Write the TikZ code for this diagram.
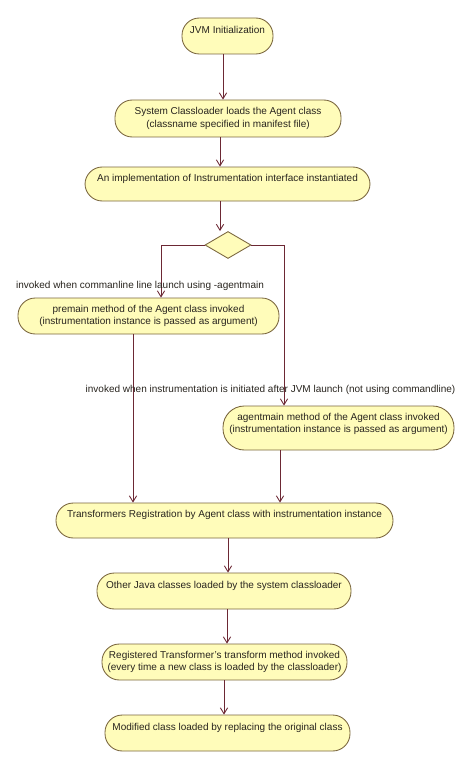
\documentclass[tikz,border=0pt]{standalone}
\usepackage{fontspec}
\setmainfont{Liberation Sans}
\usetikzlibrary{arrows.meta,shapes.geometric,calc}
\definecolor{actfill}{RGB}{255,252,186}
\definecolor{actline}{RGB}{122,102,62}
\definecolor{arrcol}{RGB}{108,40,52}
\definecolor{txtcol}{RGB}{40,36,30}
\tikzset{
  act/.style={draw=actline, fill=actfill, line width=0.65pt, rounded corners=13pt,
    align=center, inner sep=0pt, text=txtcol, font=\fontsize{7.5}{9.6}\selectfont},
  decis/.style={draw=actline, fill=actfill, line width=0.65pt, diamond, inner sep=0pt,
    minimum width=34.5pt, minimum height=20.25pt},
  arr/.style={draw=arrcol, line width=0.65pt, -{Straight Barb[length=4.5pt,width=5.5pt]}},
  lab/.style={inner sep=0pt, text=txtcol, font=\fontsize{7.5}{9.6}\selectfont}
}
\begin{document}
\begin{tikzpicture}[x=0.75pt,y=-0.75pt]
\useasboundingbox (0,0) rectangle (474,770);
\node[act, minimum width=68.25pt, minimum height=27pt] (jvm) at (227.5,36) {JVM Initialization\\\mbox{}};
\node[act, minimum width=169.5pt, minimum height=27.75pt] (sys) at (228,118.5) {System Classloader loads the Agent class\\(classname specified in manifest file)};
\node[act, minimum width=213.75pt, minimum height=25.5pt] (impl) at (227.5,184) {An implementation of Instrumentation interface instantiated\\\mbox{}};
\node[decis] (dia) at (228,245) {};
\node[act, minimum width=195.75pt, minimum height=27pt] (pre) at (148.5,316) {premain method of the Agent class invoked\\(instrumentation instance is passed as argument)};
\node[act, minimum width=173.25pt, minimum height=33pt, rounded corners=16pt] (agent) at (338.5,428) {agentmain method of the Agent class invoked\\(instrumentation instance is passed as argument)\\[-2pt]\mbox{}};
\node[act, minimum width=252.75pt, minimum height=26.25pt] (trans) at (224.5,520.5) {Transformers Registration by Agent class with instrumentation instance\\\mbox{}};
\node[act, minimum width=190.5pt, minimum height=27pt] (other) at (224,591) {Other Java classes loaded by the system classloader\\\mbox{}};
\node[act, minimum width=183.75pt, minimum height=27pt] (reg) at (224.5,662) {Registered Transformer's transform method invoked\\(every time a new class is loaded by the classloader)};
\node[act, minimum width=183.75pt, minimum height=27pt] (mod) at (227.5,733) {Modified class loaded by replacing the original class\\\mbox{}};

\draw[arr] ($(jvm.south)+(-4.5,0)$) -- ($(sys.north)+(-5,0)$);
\draw[arr] ($(sys.south)+(-8,0)$) -- ($(impl.north)+(-7.5,0)$);
\draw[arr] ($(impl.south)+(-7.5,0)$) -- ($(dia.north)+(-8,0)$);
\draw[arr] (dia.west) -| ($(pre.north)+(12.5,0)$);
\draw[arr] (dia.east) -| ($(agent.north)+(-54.5,0)$);
\draw[arr] ($(pre.south)+(-15.5,0)$) -- ($(trans.north)+(-91.5,0)$);
\draw[arr] ($(agent.south)+(-58.5,0)$) -- ($(trans.north)+(55.5,0)$);
\draw[arr] ($(trans.south)+(3.5,0)$) -- ($(other.north)+(4,0)$);
\draw[arr] ($(other.south)+(3,0)$) -- ($(reg.north)+(2.5,0)$);
\draw[arr] ($(reg.south)+(-0.5,0)$) -- ($(mod.north)+(-3.5,0)$);

\node[lab] (lab1) at (140,286) {invoked when commanline line launch using -agentmain};
\node[lab] (lab2) at (270.5,390) {invoked when instrumentation is initiated after JVM launch (not using commandline)};
\end{tikzpicture}
\end{document}
